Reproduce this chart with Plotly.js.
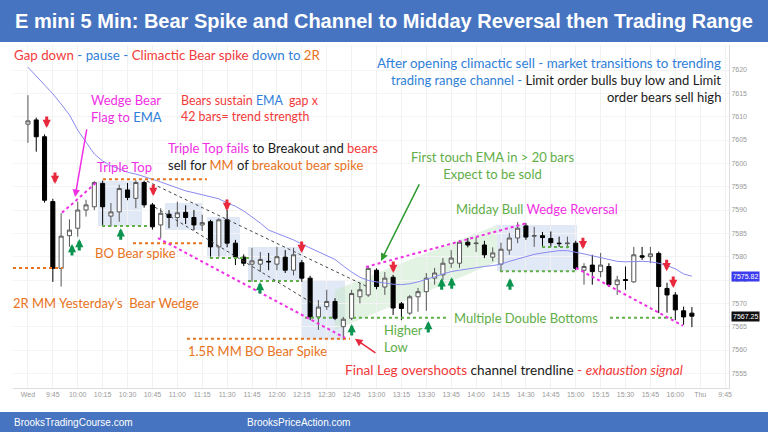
<!DOCTYPE html>
<html><head><meta charset="utf-8">
<script src="https://cdn.plot.ly/plotly-3.0.1.min.js"></script>
<style>html,body{margin:0;padding:0;background:#fff;}#chart{width:768px;height:432px;}</style>
</head><body><div id="chart"></div>
<script>
// ---- data ----
const opens  = [7608.4,7609.3,7605.7,7591.8,7577.5,7584.5,7586.1,7590.0,7590.7,7595.7,7588.7,7589.6,7594.3,7592.5,7595.9,7591.1,7586.8,7589.1,7588.4,7589.5,7588.4,7586.8,7587.5,7582.1,7587.9,7582.9,7579.9,7578.4,7578.4,7579.0,7578.4,7579.9,7577.1,7578.7,7575.4,7567.1,7569.3,7570.4,7565.0,7566.8,7571.4,7571.8,7577.1,7573.5,7575.6,7569.9,7567.9,7571.4,7572.5,7575.4,7576.1,7578.6,7578.6,7583.1,7582.8,7582.5,7579.9,7578.4,7581.4,7584.0,7586.6,7584.4,7584.5,7583.9,7582.9,7582.8,7582.9,7577.1,7578.2,7576.8,7577.9,7574.0,7575.1,7574.6,7580.2,7580.0,7580.7,7573.2,7571.8,7568.4,7567.9];
const highs  = [7614.6,7609.8,7606.2,7592.4,7589.3,7588.0,7591.8,7592.2,7596.2,7596.3,7591.5,7595.4,7595.8,7596.4,7596.3,7591.5,7590.4,7590.0,7591.8,7591.0,7590.0,7589.0,7587.9,7588.2,7590.0,7583.6,7580.5,7581.9,7581.0,7580.8,7582.1,7581.4,7581.9,7579.3,7575.9,7570.7,7572.9,7571.1,7567.1,7572.9,7574.4,7577.9,7577.5,7576.7,7576.1,7570.3,7571.8,7573.3,7576.5,7577.6,7579.7,7581.4,7583.6,7584.0,7584.2,7583.4,7582.0,7583.0,7585.1,7587.4,7587.2,7586.4,7585.3,7585.4,7584.3,7584.3,7583.4,7578.6,7580.4,7580.8,7578.6,7575.9,7577.9,7582.1,7582.1,7582.1,7581.1,7574.4,7572.4,7569.3,7569.2];
const lows   = [7604.4,7602.5,7591.6,7574.6,7573.6,7582.1,7584.3,7588.6,7590.0,7586.8,7586.4,7587.5,7592.1,7590.4,7590.5,7585.8,7584.0,7586.1,7586.4,7587.0,7585.7,7585.5,7580.0,7580.0,7582.0,7578.2,7578.0,7574.6,7576.7,7577.1,7577.1,7576.5,7576.0,7574.6,7566.4,7564.3,7568.6,7566.4,7562.1,7566.4,7570.0,7571.4,7573.0,7571.8,7567.5,7566.4,7567.5,7568.2,7568.4,7574.0,7575.0,7577.6,7577.6,7582.0,7581.0,7579.7,7579.0,7577.0,7580.4,7582.9,7583.6,7582.1,7582.3,7582.1,7582.1,7581.8,7577.1,7574.0,7574.0,7575.6,7573.5,7571.8,7572.9,7574.4,7579.3,7578.6,7567.9,7568.0,7566.4,7565.4,7564.9];
const closes = [7609.1,7605.7,7592.1,7577.5,7584.4,7585.7,7590.0,7591.1,7595.9,7590.7,7589.6,7594.6,7592.7,7595.9,7591.1,7586.4,7589.3,7588.4,7589.4,7588.4,7586.8,7587.3,7582.1,7587.9,7582.9,7580.0,7578.6,7579.1,7579.4,7578.9,7580.0,7577.1,7580.4,7575.4,7567.1,7569.2,7570.4,7566.8,7566.6,7572.1,7572.9,7577.5,7573.6,7575.4,7569.0,7568.9,7571.4,7572.5,7575.4,7576.5,7578.6,7579.7,7583.1,7582.5,7582.9,7580.4,7580.8,7581.6,7584.0,7586.1,7584.2,7584.5,7584.1,7583.0,7582.8,7582.9,7577.5,7577.9,7576.8,7578.2,7574.0,7575.0,7574.9,7580.4,7579.9,7580.6,7573.6,7571.8,7568.6,7567.1,7567.25];
const ema    = [7620.6,7618.7,7617.0,7614.9,7612.7,7610.4,7607.1,7604.6,7602.0,7600.5,7599.5,7598.8,7598.1,7597.7,7597.2,7596.6,7596.0,7595.4,7594.7,7594.1,7593.7,7593.3,7592.9,7592.4,7591.5,7590.8,7589.8,7588.5,7587.2,7585.7,7585.0,7584.3,7583.6,7582.7,7581.9,7581.1,7580.3,7579.4,7578.0,7576.7,7575.6,7574.9,7574.6,7574.3,7574.1,7574.0,7574.2,7574.6,7575.1,7575.7,7576.3,7576.8,7577.1,7577.4,7577.6,7577.9,7578.1,7578.4,7579.0,7579.5,7580.0,7580.5,7580.8,7581.0,7581.3,7581.3,7581.0,7580.6,7580.2,7579.8,7579.4,7579.0,7578.9,7579.0,7579.0,7578.9,7578.6,7578.1,7577.4,7576.3,7575.82];
const tickVals = [0,3,6,9,12,15,18,21,24,27,30,33,36,39,42,45,48,51,54,57,60,63,66,69,72,75,78,81,84];
const tickText = ['Wed','9:45','10:00','10:15','10:30','10:45','11:00','11:15','11:30','11:45','12:00','12:15','12:30','12:45','13:00','13:15','13:30','13:45','14:00','14:15','14:30','14:45','15:00','15:15','15:30','15:45','16:00','Thu','9:45'];
const priceTicks = [7555,7560,7565,7570,7575,7580,7585,7590,7595,7600,7605,7610,7615,7620];
// signal arrows: [bar, price] at the arrow tip
const redArrowBar   = [2.26,3.26,15.1,23.98,32.98,44.02,66.87,76.96,77.75];
const redArrowPrice = [7607.6,7595.6,7593.0,7589.8,7580.8,7576.5,7581.6,7576.9,7573.3];
const greenArrowBar   = [5.31,6.19,11.18,27.96,39.01,48.24,49.85,51.06,58.08];
const greenArrowPrice = [7582.7,7583.8,7586.1,7574.6,7565.6,7566.2,7575.4,7575.6,7575.4];

// ---- layout helpers ----
const L=13, R=729, T=45, B=388;
const PX = X => (X - L)/(R - L);
const PY = Y => (B - Y)/(B - T);
const col = {red:'#f23a3a', blue:'#2f80d8', orange:'#e8731c', mag:'#f02fe4', green:'#5fae48', black:'#1a1a1a'};
const sp = (c,t) => `<span style="color:${c}">${t}</span>`;
const idx = opens.map((_, i) => i);

const traces = [
  {type:'candlestick', x:idx, open:opens, high:highs, low:lows, close:closes,
   increasing:{line:{color:'#555', width:1}, fillcolor:'#ffffff'},
   decreasing:{line:{color:'#000', width:1}, fillcolor:'#000000'},
   hoverinfo:'none', showlegend:false},
  {type:'scatter', mode:'lines', x:idx, y:ema, line:{color:'#8a8af2', width:1}, hoverinfo:'none', showlegend:false}
];

const dot = (x0,y0,x1,y1,c,w,d) => ({type:'line', xref:'x', yref:'y', x0, y0, x1, y1, line:{color:c, width:w, dash:d||'dot'}});
const box = (x0,x1,y0,y1) => ({type:'rect', xref:'x', yref:'y', x0, x1, y0, y1, layer:'below', line:{width:0}, fillcolor:'rgba(205,216,240,0.6)'});

const shapes = [
  {type:'rect', xref:'paper', yref:'paper', x0:PX(0), x1:PX(768), y0:PY(42), y1:PY(0), line:{width:0}, fillcolor:'#4674c1'},
  {type:'rect', xref:'paper', yref:'paper', x0:PX(0), x1:PX(768), y0:PY(432), y1:PY(412), line:{width:0}, fillcolor:'#4674c1'},
  box(8.44,13.74,7586.6,7596.2), box(16.51,21.09,7585.7,7591.5), box(21.57,25.55,7579.7,7588.5),
  box(26.51,33.14,7574.8,7582.1), box(33.02,38.2,7562.2,7574.8), box(56.51,66.15,7576.9,7586.8),
  {type:'path', xref:'x', yref:'y', layer:'below', line:{width:0}, fillcolor:'rgba(200,232,200,0.5)',
   path:'M 36.99,7572.86 L 56.51,7586.79 L 56.51,7578.86 L 36.99,7564.29 Z'},
  dot(-1.8,7577.6,4.2,7577.6,col.orange,2), dot(9.04,7596.6,21.57,7596.6,col.orange,2),
  dot(12.66,7582.9,21.1,7582.9,col.orange,2), dot(19.16,7562.4,38.8,7562.4,col.orange,2),
  dot(8.92,7586.6,14.34,7586.6,col.green,2), dot(21.93,7579.7,26.75,7579.7,col.green,2),
  dot(26.51,7574.8,33.02,7574.8,col.green,2), dot(33.38,7566.9,36.75,7566.9,col.green,2),
  dot(39.16,7566.9,50.49,7566.9,col.green,2), dot(70.13,7566.9,77.6,7566.9,col.green,2),
  dot(56.87,7576.9,66.15,7576.9,col.green,2), dot(61.94,7582.1,65.31,7582.1,col.green,2),
  dot(4.1,7589.4,8.32,7596.0,col.mag,2), dot(15.67,7584.0,38.2,7562.6,col.mag,2),
  dot(40.73,7577.8,60.13,7587.2,col.mag,2), dot(66.03,7577.6,78.92,7565.2,col.mag,2),
  dot(14.34,7596.2,40.97,7573.5,'#444',1), dot(15.31,7590.6,34.22,7570.1,'#444',1)
];

const txt = (X,Y,t,xa,extra) => Object.assign({xref:'paper', yref:'paper', x:PX(X), y:PY(Y), text:t, showarrow:false,
  xanchor:xa||'left', yanchor:'middle', align:xa==='right'?'right':(xa==='center'?'center':'left'),
  font:{family:'Lato, "Open Sans", sans-serif', size:13, color:col.black}}, extra||{});
const f = s => ({font:{family:'Lato, "Open Sans", sans-serif', size:s, color:col.black}});

const annotations = [
  txt(384,21,'<b>E mini 5 Min: Bear Spike and Channel to Midday Reversal then Trading Range</b>','center',
      {font:{family:'"Liberation Sans", Arial, sans-serif', size:20, color:'#ffffff'}}),
  txt(12,55, sp(col.red,'Gap down')+sp(col.blue,' - pause - ')+sp(col.red,'Climactic Bear spike')+sp(col.blue,' down to ')+sp(col.orange,'2R'),'left',f(13.3)),
  txt(723,63, sp(col.blue,'After opening climactic sell - market transitions to trending'),'right',f(13.4)),
  txt(723,80, sp(col.blue,'trading range channel - ')+sp(col.black,'Limit order bulls buy low and Limit'),'right'),
  txt(723,97, sp(col.black,'order bears sell high'),'right'),
  txt(89,108.5, sp(col.mag,'Wedge Bear')+'<br>'+sp(col.mag,'Flag to ')+sp(col.blue,'EMA')),
  txt(179,108.5, sp(col.red,'Bears sustain ')+sp(col.blue,'EMA')+sp(col.red,'&nbsp; gap x')+'<br>'+sp(col.red,'42 bars= trend strength'),'left',f(12.4)),
  txt(95,167, sp(col.mag,'Triple Top')),
  txt(166,156.5, sp(col.mag,'Triple Top fails')+sp(col.black,' to Breakout and ')+sp(col.red,'bears')+'<br>'+sp(col.black,'sell for ')+sp(col.orange,'MM')+sp(col.black,' of ')+sp(col.orange,'breakout bear spike')),
  txt(93,253, sp(col.orange,'BO Bear spike')),
  txt(11,303, sp(col.orange,'2R MM Yesterday’s&nbsp; Bear Wedge')),
  txt(186,351, sp(col.orange,'1.5R MM BO Bear Spike')),
  txt(493,165.5, sp(col.green,'First touch EMA in &gt; 20 bars')+'<br>'+sp(col.green,'Expect to be sold'),'center'),
  txt(454,209, sp(col.green,'Midday Bull ')+sp(col.mag,'Wedge Reversal')),
  txt(382,338.5, sp(col.green,'Higher')+'<br>'+sp(col.green,'Low')),
  txt(452,318, sp(col.green,'Multiple Double Bottoms')),
  txt(343,370, sp(col.red,'Final Leg overshoots')+sp(col.black,' channel trendline ')+sp(col.red,'- ')+'<i>'+sp(col.red,'exhaustion signal')+'</i>','left',f(13.6)),
  txt(12,422,'BrooksTradingCourse.com','left',{font:{family:'"Liberation Sans", Arial, sans-serif', size:10, color:'#ffffff'}}),
  txt(245,422,'BrooksPriceAction.com','left',{font:{family:'"Liberation Sans", Arial, sans-serif', size:10, color:'#ffffff'}}),
  {xref:'x', yref:'y', x:5.67, y:7592.8, ax:12, ay:-69, text:'', showarrow:true, arrowcolor:col.mag, arrowwidth:1.5, arrowhead:2, arrowsize:1},
  {xref:'x', yref:'y', x:42.54, y:7579.1, ax:39, ay:-78, text:'', showarrow:true, arrowcolor:'#2f9a2f', arrowwidth:1.5, arrowhead:2, arrowsize:1},
  {xref:'x', yref:'y', x:39.4, y:7562.4, ax:22, ay:15, text:'', showarrow:true, arrowcolor:'#e8283c', arrowwidth:1.5, arrowhead:2, arrowsize:1},
  {xref:'paper', yref:'y', x:1.003, y:ema[ema.length-1], xanchor:'left', yanchor:'middle', showarrow:false,
   text:ema[ema.length-1].toFixed(2), bgcolor:'#3b3bf0', font:{family:'"Liberation Sans", Arial', size:7, color:'#fff'}, borderpad:1},
  {xref:'paper', yref:'y', x:1.003, y:closes[closes.length-1], xanchor:'left', yanchor:'middle', showarrow:false,
   text:closes[closes.length-1].toFixed(2), bgcolor:'#111', font:{family:'"Liberation Sans", Arial', size:7, color:'#fff'}, borderpad:1}
];
redArrowBar.forEach((b,i) => annotations.push({xref:'x', yref:'y', x:b, y:redArrowPrice[i], ax:0, ay:-13, text:'', showarrow:true,
  arrowcolor:'#e8283c', arrowwidth:3, arrowhead:2, arrowsize:0.55}));
greenArrowBar.forEach((b,i) => annotations.push({xref:'x', yref:'y', x:b, y:greenArrowPrice[i], ax:0, ay:13, text:'', showarrow:true,
  arrowcolor:'#0a9450', arrowwidth:3, arrowhead:2, arrowsize:0.55}));

const layout = {
  width:768, height:432, margin:{l:L, r:768-R, t:T, b:432-B},
  paper_bgcolor:'#ffffff', plot_bgcolor:'#ffffff', showlegend:false,
  xaxis:{range:[-1.8,84.47], tickvals:tickVals, ticktext:tickText, tickfont:{size:7, color:'#999', family:'"Liberation Sans", Arial'},
         showgrid:true, gridcolor:'#f1f1f1', zeroline:false, showline:true, linecolor:'#dddddd', ticks:'', rangeslider:{visible:false}, fixedrange:true},
  yaxis:{side:'right', range:[7551.86,7625.36], tickvals:priceTicks, tickfont:{size:7, color:'#999', family:'"Liberation Sans", Arial'},
         showgrid:true, gridcolor:'#f4f4f4', zeroline:false, showline:true, linecolor:'#dddddd', ticks:'', fixedrange:true},
  shapes, annotations
};
Plotly.newPlot('chart', traces, layout, {staticPlot:true, displayModeBar:false});
</script></body></html>
